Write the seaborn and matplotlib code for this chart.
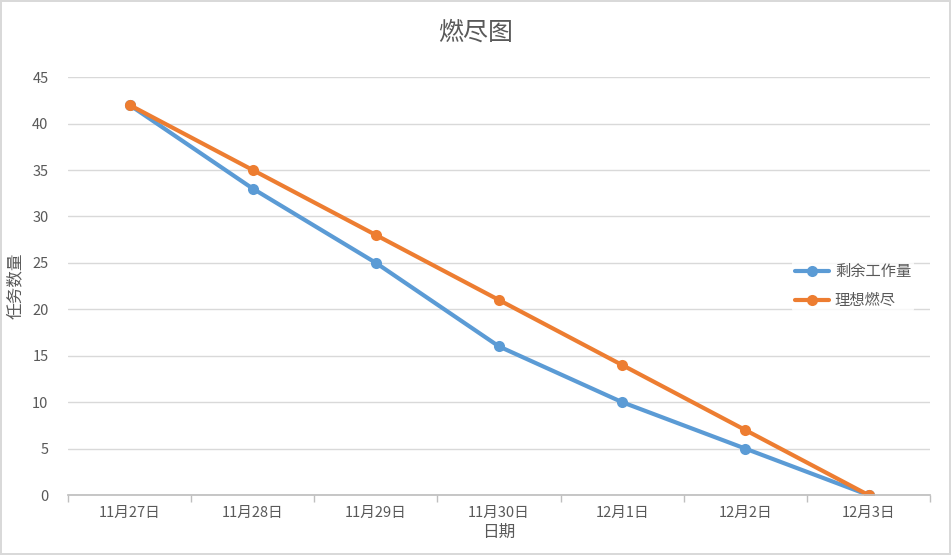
import matplotlib
matplotlib.use("Agg")
import matplotlib.pyplot as plt
import seaborn as sns
import pandas as pd
import numpy as np

dates = ["11月27日", "11月28日", "11月29日", "11月30日", "12月1日", "12月2日", "12月3日"]
remaining = [42, 33, 25, 16, 10, 5, 0]
ideal = [42, 35, 28, 21, 14, 7, 0]
series_names = ["剩余工作量", "理想燃尽"]

sns.set_theme(style="white")
plt.rcParams['font.family'] = ['Noto Sans CJK SC', 'DejaVu Sans']

idx = np.arange(len(dates))
df = pd.DataFrame({
    "x": np.concatenate([idx, idx]),
    "y": remaining + ideal,
    "s": [series_names[0]] * len(dates) + [series_names[1]] * len(dates),
})

fig = plt.figure(figsize=(9.51, 5.55), dpi=100)
fig.patch.set_edgecolor("#d9d9d9")
fig.patch.set_linewidth(1.5)
ax = fig.add_axes([0.0715, 0.108, 0.9065, 0.753])
sns.lineplot(data=df, x="x", y="y", hue="s", palette=["#5B9BD5", "#ED7D31"],
             marker="o", markersize=8, markeredgewidth=0, linewidth=3, ax=ax)

ax.set_xlim(-0.5, len(dates) - 0.5)
ax.set_ylim(0, 45)
ax.set_yticks(range(0, 46, 5))
ax.set_xticks(idx)
ax.set_xticklabels(dates)
ax.set_xticks(np.arange(-0.5, len(dates), 1), minor=True)
ax.tick_params(axis="x", which="major", length=0, pad=8, labelsize=10.5, colors="#595959")
ax.tick_params(axis="x", which="minor", length=5, color="#bfbfbf", direction="out", bottom=True)
ax.tick_params(axis="y", length=0, labelsize=10.5, colors="#595959", pad=14)
ax.yaxis.grid(True, color="#d9d9d9", linewidth=1)
for sp in ["top", "right", "left"]:
    ax.spines[sp].set_visible(False)
ax.spines["bottom"].set_color("#bfbfbf")
ax.set_xlabel("日期", fontsize=12, color="#595959", labelpad=3)
ax.set_ylabel("任务数量", fontsize=12, color="#595959", labelpad=6)
fig.suptitle("燃尽图", y=0.965, fontsize=18, color="#595959")

leg = ax.legend(loc="center left", bbox_to_anchor=(0.84, 0.5), frameon=True,
                facecolor="white", edgecolor="none", fontsize=11, handlelength=2.2,
                handletextpad=0.4, borderpad=0.2, borderaxespad=0, labelspacing=0.8)
for t in leg.get_texts():
    t.set_color("#595959")

fig.savefig("out.png", dpi=100)
